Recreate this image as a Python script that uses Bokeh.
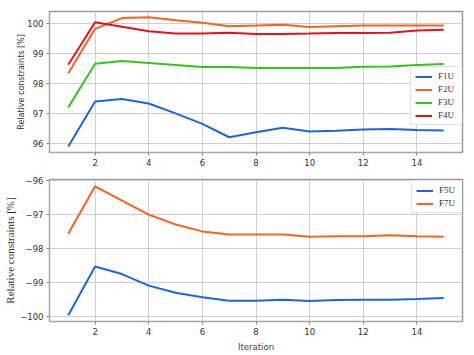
from bokeh.plotting import figure
from bokeh.layouts import column
from bokeh.models import Range1d, FixedTicker, Legend, LegendItem
from bokeh.embed import file_html
from bokeh.resources import INLINE

iterations = list(range(1, 16))

f1u = [95.89, 97.40, 97.48, 97.33, 97.00, 96.65, 96.20, 96.37, 96.52, 96.39, 96.42, 96.46, 96.48, 96.44, 96.43]
f2u = [98.34, 99.83, 100.19, 100.22, 100.12, 100.03, 99.92, 99.94, 99.97, 99.89, 99.92, 99.94, 99.94, 99.94, 99.94]
f3u = [97.20, 98.66, 98.75, 98.69, 98.62, 98.55, 98.55, 98.52, 98.52, 98.52, 98.52, 98.56, 98.57, 98.62, 98.65]
f4u = [98.63, 100.05, 99.90, 99.75, 99.67, 99.67, 99.70, 99.66, 99.66, 99.67, 99.69, 99.69, 99.70, 99.77, 99.80]

f5u = [-99.96, -98.53, -98.75, -99.09, -99.30, -99.43, -99.53, -99.53, -99.50, -99.54, -99.51, -99.50, -99.50, -99.48, -99.45]
f7u = [-97.57, -96.18, -96.60, -97.01, -97.30, -97.50, -97.59, -97.59, -97.59, -97.66, -97.64, -97.64, -97.61, -97.64, -97.66]

x_ticks = [2, 4, 6, 8, 10, 12, 14]
top_ticks = [96, 97, 98, 99, 100]
bottom_ticks = [-100, -99, -98, -97, -96]

BLUE = "#1e64dc"
ORANGE = "#f5641e"
GREEN = "#37c31e"
RED = "#e1141e"

GRID = "#cfcfcf"
AXIS = "#a8a8a8"
TICKFONT = "DejaVu Sans"


def style(p, ticks_y):
    p.xaxis.ticker = FixedTicker(ticks=x_ticks)
    p.yaxis.ticker = FixedTicker(ticks=ticks_y)
    p.xgrid.ticker = FixedTicker(ticks=x_ticks)
    p.ygrid.ticker = FixedTicker(ticks=ticks_y)
    p.grid.grid_line_color = GRID
    p.grid.grid_line_width = 1
    p.outline_line_color = "#9a9a9a"
    p.outline_line_width = 1.5
    for ax in (p.xaxis[0], p.yaxis[0]):
        ax.axis_line_color = AXIS
        ax.major_tick_line_color = "#888888"
        ax.major_tick_out = 3
        ax.major_tick_in = 0
        ax.minor_tick_line_color = None
        ax.major_label_text_font = TICKFONT
        ax.major_label_text_font_size = "8.5px"
        ax.major_label_text_color = "#333333"
        ax.major_label_standoff = 3
    p.background_fill_color = "white"
    p.border_fill_color = "white"


# Top panel
p1 = figure(width=474, height=175, output_backend="svg", toolbar_location=None,
            x_range=Range1d(0.3, 15.7), y_range=Range1d(95.69, 100.41),
            min_border_left=49, min_border_right=12, min_border_top=11, min_border_bottom=23)
style(p1, top_ticks)
p1.yaxis.axis_label = "Relative constraints [%]"
p1.yaxis.axis_label_text_font = "DejaVu Sans"
p1.yaxis.axis_label_text_font_style = "normal"
p1.yaxis.axis_label_text_font_size = "8px"
p1.yaxis.axis_label_text_color = "#333333"
p1.yaxis.axis_label_standoff = -2

r1 = p1.line(iterations, f1u, line_color=BLUE, line_width=2)
r2 = p1.line(iterations, f2u, line_color=ORANGE, line_width=2)
r3 = p1.line(iterations, f3u, line_color=GREEN, line_width=2)
r4 = p1.line(iterations, f4u, line_color=RED, line_width=2)

leg1 = Legend(items=[LegendItem(label="F1U", renderers=[r1]),
                     LegendItem(label="F2U", renderers=[r2]),
                     LegendItem(label="F3U", renderers=[r3]),
                     LegendItem(label="F4U", renderers=[r4])],
              location=(361, 27))
p1.add_layout(leg1)

# Bottom panel
p2 = figure(width=474, height=180, output_backend="svg", toolbar_location=None,
            x_range=Range1d(0.3, 15.7), y_range=Range1d(-100.14, -95.98),
            min_border_left=49, min_border_right=12, min_border_top=4, min_border_bottom=34)
style(p2, bottom_ticks)
p2.yaxis.major_label_overrides = {t: "\u2212" + str(abs(t)) for t in bottom_ticks}
p2.yaxis.axis_label = "Relative constraints [%]"
p2.yaxis.axis_label_text_font = "Liberation Serif"
p2.yaxis.axis_label_text_font_style = "normal"
p2.yaxis.axis_label_text_font_size = "11px"
p2.yaxis.axis_label_text_color = "#333333"
p2.yaxis.axis_label_standoff = 1
p2.xaxis.axis_label = "Iteration"
p2.xaxis.axis_label_text_font = "DejaVu Sans"
p2.xaxis.axis_label_text_font_style = "normal"
p2.xaxis.axis_label_text_font_size = "8.5px"
p2.xaxis.axis_label_text_color = "#444444"
p2.xaxis.axis_label_standoff = 4

r5 = p2.line(iterations, f5u, line_color=BLUE, line_width=2)
r7 = p2.line(iterations, f7u, line_color=ORANGE, line_width=2)

leg2 = Legend(items=[LegendItem(label="F5U", renderers=[r5]),
                     LegendItem(label="F7U", renderers=[r7])],
              location=(362, 108))
p2.add_layout(leg2)

for leg in (leg1, leg2):
    leg.label_text_font = "Liberation Serif"
    leg.label_text_font_size = "9px"
    leg.label_text_color = "#333333"
    leg.glyph_width = 17
    leg.glyph_height = 9
    leg.label_height = 9
    leg.label_standoff = 6
    leg.spacing = 3
    leg.padding = 4
    leg.margin = 0
    leg.border_line_color = "#c8c8c8"
    leg.border_line_width = 1
    leg.background_fill_alpha = 1.0

layout = column(p1, p2, spacing=0)

open("out.html", "w").write(file_html(layout, INLINE))
